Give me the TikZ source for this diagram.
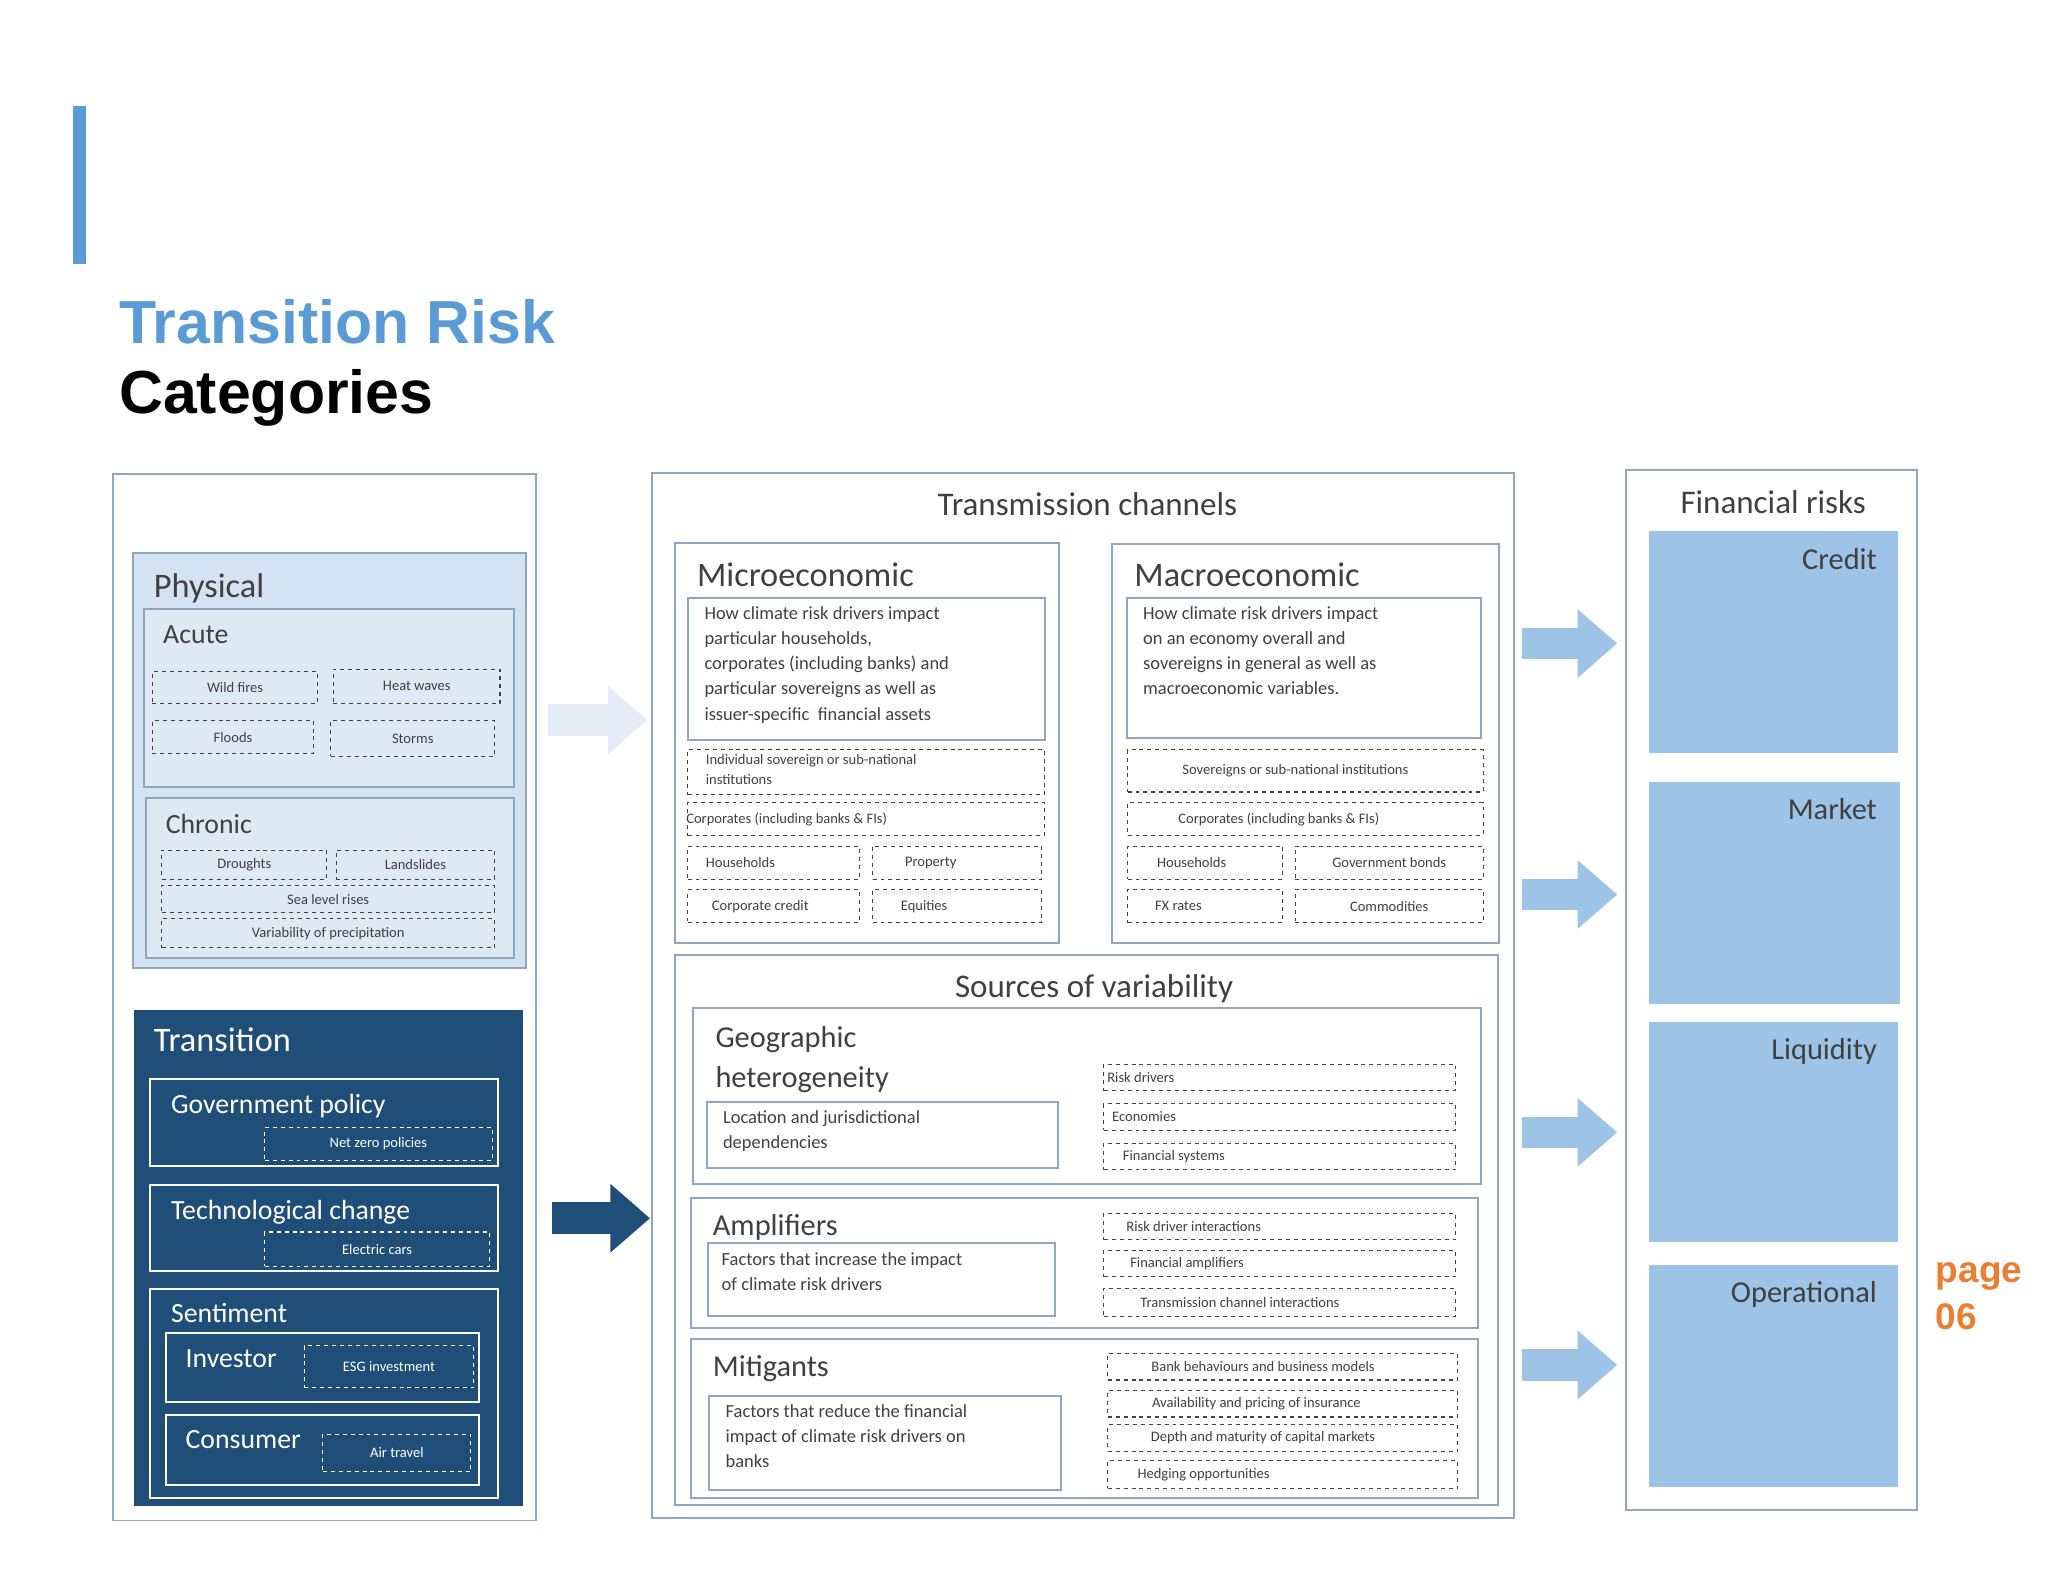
\documentclass[tikz,border=0pt]{standalone}
\usepackage{fontspec}
\setmainfont{Carlito}
\newfontfamily\titlefont{Liberation Sans}
\usetikzlibrary{arrows.meta,positioning}
\definecolor{barblue}{HTML}{5B9BD5}
\definecolor{navy}{HTML}{1F4E79}
\definecolor{paleblue}{HTML}{D3E3F3}
\definecolor{lightblue}{HTML}{DDE9F5}
\definecolor{riskblue}{HTML}{9DC3E6}
\definecolor{edgegray}{HTML}{8FA6BC}
\definecolor{txt}{HTML}{404040}
\definecolor{pageorange}{HTML}{ED7D31}
\tikzset{panel/.style={draw=edgegray,line width=1.5pt,fill=white},
  lightbox/.style={draw=edgegray,line width=1.5pt,fill=paleblue},
  innerbox/.style={draw=edgegray,line width=1.5pt,fill=lightblue},
  darkbox/.style={draw=white,line width=1.5pt,fill=navy},
  textbox/.style={draw=edgegray,line width=1.5pt,fill=white},
  tag/.style={draw=txt,dashed,line width=0.8pt,text=txt,font=\fontsize{11}{13}\selectfont},
  wtag/.style={draw=white,dashed,line width=0.8pt,text=white,font=\fontsize{11}{13}\selectfont},
  riskbox/.style={fill=riskblue},
  head/.style={anchor=base west,text=txt,font=\fontsize{26}{30}\selectfont},
  subhead/.style={anchor=base west,text=txt,font=\fontsize{21}{24}\selectfont},
  para/.style={anchor=north west,align=left,text=txt,inner sep=0,font=\fontsize{14}{19}\selectfont},
  flow/.style={line width=24pt,-{Triangle[length=30pt,width=50pt]}}
}
\newcommand\boxat[6]{\node[#2,anchor=north west,inner sep=0,minimum width={(#5-#3)*1pt},minimum height={(#6-#4)*1pt}] (#1) at (#3,#4) {};}
\newcommand\tagat[7][tag]{\node[#1,anchor=north west,inner sep=0,minimum width={(#5-#3)*1pt},minimum height={(#6-#4)*1pt}] (#2) at (#3,#4) {#7};}
\begin{document}
\begin{tikzpicture}[x=1pt,y=-1pt]
\useasboundingbox (0,0) rectangle (1550,1197);
% title
\fill[barblue] (55,80) rectangle (65,200);
\node[anchor=base west,inner sep=0,text=barblue,font=\titlefont\bfseries\fontsize{46}{50}\selectfont] (title) at (90,260) {Transition Risk};
\node[anchor=base west,inner sep=0,font=\titlefont\bfseries\fontsize{46}{50}\selectfont] (subtitle) at (90,313) {Categories};
% risk drivers
\boxat{drivers}{panel}{85}{358}{405}{1150}
\boxat{physical}{lightbox}{100}{418}{397}{732}
\node[head] at (113,452) {Physical};
\boxat{acute}{innerbox}{108}{460}{388}{595}
\node[subhead] at (120,487) {Acute};
\tagat{wild}{115}{508}{240}{532}{Wild fires}
\tagat{heat}{252}{506}{378}{532}{Heat waves}
\tagat{flood}{115}{545}{237}{570}{Floods}
\tagat{storm}{250}{545}{374}{572}{Storms}
\boxat{chronic}{innerbox}{110}{603}{388}{724}
\node[subhead] at (122,631) {Chronic};
\tagat{drought}{122}{643}{247}{665}{Droughts}
\tagat{slide}{254}{643}{374}{665}{Landslides}
\tagat{sea}{122}{670}{374}{690}{Sea level rises}
\tagat{precip}{122}{695}{374}{717}{Variability of precipitation}
\boxat{transition}{darkbox}{100}{763}{396}{1140}
\node[head,text=white] at (113,796) {Transition};
\boxat{policy}{darkbox}{113}{816}{376}{882}
\node[subhead,text=white] at (126,843) {Government policy};
\tagat[wtag]{netzero}{200}{853}{372}{878}{Net zero policies}
\boxat{tech}{darkbox}{113}{896}{376}{961}
\node[subhead,text=white] at (126,923) {Technological change};
\tagat[wtag]{cars}{200}{932}{370}{958}{Electric cars}
\boxat{sentiment}{darkbox}{113}{975}{376}{1133}
\node[subhead,text=white] at (126,1001) {Sentiment};
\boxat{investor}{darkbox}{125}{1008}{362}{1060}
\node[subhead,text=white] at (137,1035) {Investor};
\tagat[wtag]{esg}{230}{1018}{358}{1050}{ESG investment}
\boxat{consumer}{darkbox}{125}{1070}{362}{1123}
\node[subhead,text=white] at (137,1096) {Consumer};
\tagat[wtag]{air}{244}{1085}{356}{1113}{Air travel}
% transmission channels
\boxat{channels}{panel}{493}{357}{1145}{1148}
\node[head,anchor=base,font=\fontsize{25}{30}\selectfont] at (823,390) {Transmission channels};
\boxat{micro}{panel}{510}{410}{801}{713}
\node[head] at (524,444) {Microeconomic};
\boxat{microtxt}{textbox}{520}{452}{790}{559}
\node[para] at (533,459) {How climate risk drivers impact\\particular households,\\corporates (including banks) and\\particular sovereigns as well as\\issuer-specific\ \ financial assets};
\tagat{mi1}{520}{567}{790}{601}{}
\node[para,font=\fontsize{11}{15}\selectfont] at (534,571) {Individual sovereign or sub-national\\institutions};
\tagat{mi2}{520}{607}{790}{632}{\hspace*{-120pt}Corporates (including banks \& FIs)}
\tagat{mi3}{520}{640}{650}{665}{\hspace*{-50pt}Households}
\tagat{mi4}{660}{640}{788}{665}{\hspace*{-40pt}Property}
\tagat{mi5}{520}{673}{650}{698}{\hspace*{-20pt}Corporate credit}
\tagat{mi6}{660}{673}{788}{698}{\hspace*{-50pt}Equities}
\boxat{macro}{panel}{841}{411}{1134}{713}
\node[head] at (855,444) {Macroeconomic};
\boxat{macrotxt}{textbox}{852}{452}{1120}{558}
\node[para] at (865,459) {How climate risk drivers impact\\on an economy overall and\\sovereigns in general as well as\\macroeconomic variables.};
\tagat{ma1}{853}{567}{1122}{599}{\hspace*{-15pt}Sovereigns or sub-national institutions}
\tagat{ma2}{853}{607}{1122}{632}{\hspace*{-40pt}Corporates (including banks \& FIs)}
\tagat{ma3}{853}{640}{970}{665}{\hspace*{-20pt}Households}
\tagat{ma4}{980}{640}{1122}{665}{Government bonds}
\tagat{ma5}{853}{673}{970}{698}{\hspace*{-40pt}FX rates}
\tagat{ma6}{980}{673}{1122}{698}{Commodities}
\boxat{sources}{panel}{510}{722}{1133}{1138}
\node[head,anchor=base,font=\fontsize{25}{30}\selectfont] at (828,755) {Sources of variability};
\boxat{geo}{panel}{524}{762}{1120}{895}
\node[subhead,font=\fontsize{23}{26}\selectfont] at (538,793) {Geographic};
\node[subhead,font=\fontsize{23}{26}\selectfont] at (538,823) {heterogeneity};
\boxat{geotxt}{textbox}{534}{833}{800}{883}
\node[para] at (547,840) {Location and jurisdictional\\dependencies};
\tagat{g1}{835}{805}{1101}{825}{\hspace*{-210pt}Risk drivers}
\tagat{g2}{835}{835}{1101}{855}{\hspace*{-205pt}Economies}
\tagat{g3}{835}{865}{1101}{885}{\hspace*{-160pt}Financial systems}
\boxat{amp}{panel}{522}{906}{1118}{1004}
\node[subhead,font=\fontsize{23}{26}\selectfont] at (536,935) {Amplifiers};
\boxat{amptxt}{textbox}{535}{940}{798}{995}
\node[para] at (546,948) {Factors that increase the impact\\of climate risk drivers};
\tagat{a1}{835}{918}{1101}{938}{\hspace*{-130pt}Risk driver interactions}
\tagat{a2}{835}{946}{1101}{966}{\hspace*{-140pt}Financial amplifiers}
\tagat{a3}{835}{975}{1101}{996}{\hspace*{-60pt}Transmission channel interactions}
\boxat{mit}{panel}{522}{1013}{1118}{1133}
\node[subhead,font=\fontsize{23}{26}\selectfont] at (536,1042) {Mitigants};
\boxat{mittxt}{textbox}{536}{1056}{802}{1127}
\node[para] at (549,1063) {Factors that reduce the financial\\impact of climate risk drivers on\\banks};
\tagat{m1}{838}{1024}{1103}{1044}{\hspace*{-30pt}Bank behaviours and business models}
\tagat{m2}{838}{1052}{1103}{1072}{\hspace*{-40pt}Availability and pricing of insurance}
\tagat{m3}{838}{1078}{1103}{1098}{\hspace*{-30pt}Depth and maturity of capital markets}
\tagat{m4}{838}{1105}{1103}{1126}{\hspace*{-120pt}Hedging opportunities}
% financial risks
\boxat{risks}{panel}{1230}{355}{1450}{1142}
\node[head,anchor=base,font=\fontsize{25}{30}\selectfont] at (1342,389) {Financial risks};
\boxat{credit}{riskbox}{1248}{402}{1436}{570}
\boxat{market}{riskbox}{1248}{592}{1438}{760}
\boxat{liquidity}{riskbox}{1248}{773}{1436}{940}
\boxat{operational}{riskbox}{1248}{957}{1436}{1125}
\foreach \r/\y/\t in {credit/431/Credit,market/620/Market,liquidity/802/Liquidity,operational/986/Operational}
  \node[anchor=base east,text=txt,font=\fontsize{23}{26}\selectfont] at (1424,\y) {\t};
% flows
\coordinate (p1) at (415,545); \coordinate (p2) at (490,545);
\coordinate (t1) at (418,922); \coordinate (t2) at (492,922);
\draw[flow,draw=lightblue!80!white,fill=lightblue!80!white] (p1) -- (p2);
\draw[flow,draw=navy,fill=navy] (t1) -- (t2);
\foreach \y/\n in {487/credit,677/market,857/liquidity,1033/operational}
  \draw[flow,draw=riskblue,fill=riskblue] (1152,\y) -- (1224,\y);
\node[anchor=north west,align=left,inner sep=0,text=pageorange,font=\titlefont\bfseries\fontsize{28}{36}\selectfont] (page) at (1465,955) {page\\06};
\end{tikzpicture}
\end{document}
